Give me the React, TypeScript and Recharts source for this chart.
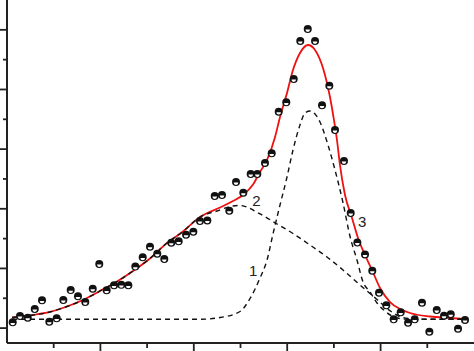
import React from "react";
import {
  ComposedChart,
  Line,
  Scatter,
  XAxis,
  YAxis,
  ReferenceDot,
} from "recharts";

// measured points (x, y)
const measuredX = [
  6.1, 13.9, 22.2, 29.7, 37.5, 45.3, 53.2, 60.3, 68.2, 76.0, 83.8, 91.8, 98.8,
  106.7, 114.6, 122.4, 129.9, 137.4, 145.3, 153.1, 160.9, 168.4, 175.9, 183.8,
  191.7, 199.5, 206.6, 214.5, 222.4, 230.2, 238.0, 245.2, 253.0, 260.9, 268.0,
  276.2, 283.4, 290.9, 299.0, 307.0, 314.0, 322.0, 329.8, 337.3, 345.1, 351.2,
  360.8, 368.0, 375.1, 383.3, 391.1, 398.3, 406.1, 414.0, 421.5, 429.4, 436.5,
  444.3, 452.2, 460.1, 467.9, 475.1, 482.9, 490.4,
];
const measuredY = [
  9.7, 20.3, 17.4, 32.0, 46.6, 10.7, 16.4, 47.1, 63.8, 53.3, 43.7, 66.0, 107.4,
  63.3, 71.7, 72.6, 71.7, 103.2, 118.7, 136.4, 124.7, 115.8, 143.1, 145.5,
  156.6, 161.6, 179.5, 180.4, 221.4, 223.1, 196.8, 244.9, 227.0, 258.3, 258.3,
  276.8, 293.0, 362.8, 378.5, 417.6, 481.3, 501.4, 481.3, 373.5, 406.3, 332.1,
  280.1, 192.9, 143.5, 123.4, 96.2, 59.3, 38.2, 14.7, 26.5, 9.0, 14.7, 42.6,
  -6.1, 30.3, 20.8, 23.3, -1.0, 13.6,
];

// total fit (red)
const fitX = [
  5.4, 27.8, 46.0, 64.2, 81.4, 99.6, 117.8, 134.9, 153.1, 171.3, 188.4, 206.6,
  228.1, 242.0, 252.7, 263.4, 270.9, 278.4, 287.0, 292.3, 299.8, 306.2, 313.7,
  322.3, 329.8, 338.3, 345.8, 350.1, 353.3, 356.5, 361.9, 369.4, 375.8, 383.3,
  390.8, 399.4, 410.1, 420.8, 431.5, 452.9, 474.3, 490.4,
];
const fitY = [
  18.1, 21.9, 27.0, 36.2, 47.1, 62.2, 78.1, 95.7, 116.7, 142.6, 161.9, 186.2,
  202.2, 213.0, 223.1, 240.7, 261.7, 281.8, 320.3, 353.9, 394.1, 432.7, 461.2,
  474.6, 466.2, 436.0, 387.4, 348.8, 315.3, 273.4, 223.1, 184.6, 151.0, 122.5,
  97.4, 67.2, 43.7, 32.0, 25.3, 19.4, 16.9, 15.2,
];

// component 1 (narrow peak)
const peak1X = [
  5.4, 206.6, 228.1, 249.5, 260.2, 270.9, 278.4, 284.8, 292.3, 299.8, 306.2,
  313.7, 319.1, 324.4, 329.8, 335.1, 343.7, 351.2, 359.8, 367.3, 374.7, 381.2,
  388.7, 396.2, 404.7, 413.3, 426.1, 492.5,
];
const peak1Y = [
  14.7, 14.7, 17.7, 27.8, 49.6, 84.0, 114.1, 157.7, 206.3, 253.3, 298.5, 340.5,
  360.6, 363.9, 358.9, 345.5, 306.9, 265.0, 209.7, 153.5, 114.1, 77.3, 60.5,
  42.1, 28.6, 19.4, 15.2, 14.7,
];

// component 2 (broad peak)
const peak2X = [
  5.4, 27.8, 46.0, 64.2, 81.4, 99.6, 117.8, 134.9, 153.1, 171.3, 188.4, 206.6,
  224.8, 242.0, 249.5, 270.9, 289.1, 306.2, 324.4, 342.6, 359.8, 378.0, 396.2,
  411.2, 421.9, 436.8, 463.6, 492.5,
];
const peak2Y = [
  17.7, 21.9, 27.0, 36.2, 47.1, 62.2, 78.1, 95.7, 116.7, 142.6, 161.9, 186.2,
  196.3, 204.7, 205.5, 191.3, 174.5, 158.6, 139.3, 119.2, 97.4, 72.2, 47.9,
  27.8, 18.6, 15.2, 14.7, 14.7,
];

const xTicks = [50, 100, 150, 200, 250, 300, 350, 400, 450];
const yTicks = [0, 50, 100, 150, 200, 250, 300, 350, 400, 450, 500];

const labels = [
  { text: "1", x: 263.7, y: 95.7 },
  { text: "2", x: 267.1, y: 213.0 },
  { text: "3", x: 380.3, y: 178.3 },
];

const zip = (xs: number[], ys: number[]) => xs.map((x, i) => ({ x, y: ys[i] }));

const measured = zip(measuredX, measuredY);
const fit = zip(fitX, fitY);
const peak1 = zip(peak1X, peak1Y);
const peak2 = zip(peak2X, peak2Y);

const PLOT_LEFT = 7;
const PLOT_BOTTOM = 343;

const XTick = (props: any) => {
  const major = props.payload.value % 100 === 0;
  return (
    <line
      x1={props.x}
      x2={props.x}
      y1={PLOT_BOTTOM}
      y2={PLOT_BOTTOM + (major ? 9 : 5)}
      stroke="#222"
      strokeWidth={1.8}
    />
  );
};

const YTick = (props: any) => {
  const major = props.payload.value % 100 === 0;
  return (
    <line
      x1={PLOT_LEFT - (major ? 7 : 4)}
      x2={PLOT_LEFT}
      y1={props.y}
      y2={props.y}
      stroke="#222"
      strokeWidth={1.8}
    />
  );
};

const Marker = (props: any) => {
  const { cx, cy } = props;
  return (
    <g>
      <circle cx={cx} cy={cy} r={4} fill="#111" />
      <path
        d={`M ${cx - 2.3} ${cy + 0.6} A 2.3 2.3 0 0 0 ${cx + 2.3} ${cy + 0.6} Z`}
        fill="#fff"
      />
    </g>
  );
};

const App = () => {
  return (
    <div style={{ position: "fixed", left: 0, top: 0, background: "#fff" }}>
      <ComposedChart
        width={474}
        height={351}
        margin={{ top: 0, right: 0, bottom: 0, left: 0 }}
      >
        <XAxis
          type="number"
          dataKey="x"
          domain={[0, 500]}
          ticks={xTicks}
          height={8}
          tickLine={false}
          tick={<XTick />}
          axisLine={{ stroke: "#222", strokeWidth: 2 }}
          allowDataOverflow
        />
        <YAxis
          type="number"
          dataKey="y"
          domain={[-25, 550]}
          ticks={yTicks}
          width={7}
          tickLine={false}
          tick={<YTick />}
          axisLine={{ stroke: "#222", strokeWidth: 2 }}
          allowDataOverflow
        />
        <Line
          data={fit}
          dataKey="y"
          type="monotone"
          stroke="#ee1111"
          strokeWidth={1.8}
          dot={false}
          isAnimationActive={false}
        />
        <Line
          data={peak1}
          dataKey="y"
          type="monotone"
          stroke="#111"
          strokeWidth={1.4}
          strokeDasharray="5 4"
          dot={false}
          isAnimationActive={false}
        />
        <Line
          data={peak2}
          dataKey="y"
          type="monotone"
          stroke="#111"
          strokeWidth={1.4}
          strokeDasharray="5 4"
          dot={false}
          isAnimationActive={false}
        />
        <Scatter
          data={measured}
          dataKey="y"
          shape={<Marker />}
          isAnimationActive={false}
        />
        {labels.map((l) => (
          <ReferenceDot
            key={l.text}
            x={l.x}
            y={l.y}
            r={0}
            stroke="none"
            label={{
              value: l.text,
              position: "center",
              fill: "#222",
              fontSize: 15,
              fontFamily: "Liberation Sans, Arial, sans-serif",
            }}
          />
        ))}
      </ComposedChart>
    </div>
  );
};

export default App;
